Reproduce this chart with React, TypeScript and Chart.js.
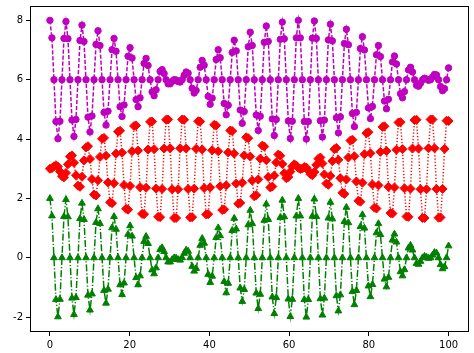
import React, { useEffect, useRef } from "react";
import { Chart, registerables } from "chart.js";

Chart.register(...registerables);

const xValues = [
  0, 0.5, 1.01, 1.51, 2.01, 2.51, 3.02, 3.52, 4.02, 4.52,
  5.03, 5.53, 6.03, 6.53, 7.04, 7.54, 8.04, 8.54, 9.05, 9.55,
  10.05, 10.55, 11.06, 11.56, 12.06, 12.56, 13.07, 13.57, 14.07, 14.57,
  15.08, 15.58, 16.08, 16.58, 17.09, 17.59, 18.09, 18.59, 19.1, 19.6,
  20.1, 20.6, 21.11, 21.61, 22.11, 22.61, 23.12, 23.62, 24.12, 24.62,
  25.13, 25.63, 26.13, 26.63, 27.14, 27.64, 28.14, 28.64, 29.15, 29.65,
  30.15, 30.65, 31.16, 31.66, 32.16, 32.66, 33.17, 33.67, 34.17, 34.67,
  35.18, 35.68, 36.18, 36.68, 37.19, 37.69, 38.19, 38.69, 39.2, 39.7,
  40.2, 40.7, 41.21, 41.71, 42.21, 42.71, 43.22, 43.72, 44.22, 44.72,
  45.23, 45.73, 46.23, 46.73, 47.24, 47.74, 48.24, 48.74, 49.25, 49.75,
  50.25, 50.75, 51.26, 51.76, 52.26, 52.76, 53.27, 53.77, 54.27, 54.77,
  55.28, 55.78, 56.28, 56.78, 57.29, 57.79, 58.29, 58.79, 59.3, 59.8,
  60.3, 60.8, 61.31, 61.81, 62.31, 62.81, 63.32, 63.82, 64.32, 64.82,
  65.33, 65.83, 66.33, 66.83, 67.34, 67.84, 68.34, 68.84, 69.35, 69.85,
  70.35, 70.85, 71.36, 71.86, 72.36, 72.86, 73.37, 73.87, 74.37, 74.87,
  75.38, 75.88, 76.38, 76.88, 77.39, 77.89, 78.39, 78.89, 79.4, 79.9,
  80.4, 80.9, 81.41, 81.91, 82.41, 82.91, 83.42, 83.92, 84.42, 84.92,
  85.43, 85.93, 86.43, 86.93, 87.44, 87.94, 88.44, 88.94, 89.45, 89.95,
  90.45, 90.95, 91.46, 91.96, 92.46, 92.96, 93.47, 93.97, 94.47, 94.97,
  95.48, 95.98, 96.48, 96.98, 97.49, 97.99, 98.49, 98.99, 99.5, 100,
];

const greenValues = [
  2.0, 1.41, 0, -1.41, -1.99, -1.4, 0, 1.39,
  1.96, 1.38, 0, -1.36, -1.91, -1.34, 0, 1.32,
  1.84, 1.29, 0, -1.26, -1.76, -1.22, 0, 1.19,
  1.65, 1.15, 0, -1.1, -1.53, -1.06, 0, 1.01,
  1.39, 0.96, 0, -0.91, -1.24, -0.85, 0, 0.79,
  1.08, 0.73, 0, -0.67, -0.91, -0.61, 0, 0.55,
  0.72, 0.48, 0, -0.41, -0.54, -0.34, 0, 0.28,
  0.34, 0.21, 0, -0.14, -0.14, -0.06, 0, -0.01,
  -0.06, -0.08, 0, 0.15, 0.26, 0.22, 0, -0.29,
  -0.45, -0.36, 0, 0.42, 0.65, 0.49, 0, -0.56,
  -0.83, -0.62, 0, 0.68, 1.01, 0.74, 0, -0.8,
  -1.18, -0.86, 0, 0.92, 1.33, 0.97, 0, -1.02,
  -1.47, -1.07, 0, 1.11, 1.6, 1.15, 0, -1.19,
  -1.71, -1.23, 0, 1.26, 1.81, 1.29, 0, -1.32,
  -1.88, -1.34, 0, 1.36, 1.94, 1.38, 0, -1.39,
  -1.98, -1.4, 0, 1.41, 2.0, 1.41, 0, -1.41,
  -2.0, -1.41, 0, 1.4, 1.98, 1.39, 0, -1.38,
  -1.93, -1.36, 0, 1.34, 1.87, 1.31, 0, -1.28,
  -1.79, -1.25, 0, 1.22, 1.7, 1.18, 0, -1.14,
  -1.58, -1.1, 0, 1.05, 1.45, 1.0, 0, -0.95,
  -1.31, -0.9, 0, 0.84, 1.15, 0.78, 0, -0.72,
  -0.98, -0.66, 0, 0.6, 0.8, 0.53, 0, -0.47,
  -0.61, -0.4, 0, 0.33, 0.42, 0.26, 0, -0.19,
  -0.22, -0.12, 0, 0.05, 0.02, -0.02, 0, 0.09,
  0.18, 0.16, 0, -0.23, -0.37, -0.3, 0, 0.4,
];

const redValues = [
  3.0, 3.02, 3.08, 3.12, 3.07, 2.91, 2.75, 2.71,
  2.86, 3.15, 3.41, 3.45, 3.2, 2.78, 2.43, 2.39,
  2.73, 3.28, 3.72, 3.76, 3.33, 2.65, 2.13, 2.1,
  2.61, 3.4, 4.01, 4.04, 3.44, 2.54, 1.87, 1.84,
  2.51, 3.51, 4.25, 4.28, 3.54, 2.45, 1.65, 1.62,
  2.42, 3.59, 4.44, 4.46, 3.61, 2.38, 1.48, 1.47,
  2.36, 3.65, 4.58, 4.59, 3.66, 2.33, 1.38, 1.37,
  2.32, 3.68, 4.65, 4.66, 3.69, 2.31, 1.34, 1.34,
  2.31, 3.69, 4.66, 4.65, 3.68, 2.32, 1.36, 1.37,
  2.33, 3.67, 4.6, 4.59, 3.65, 2.35, 1.46, 1.47,
  2.37, 3.62, 4.48, 4.46, 3.59, 2.41, 1.61, 1.63,
  2.44, 3.55, 4.29, 4.27, 3.51, 2.5, 1.82, 1.85,
  2.53, 3.45, 4.06, 4.03, 3.41, 2.6, 2.07, 2.11,
  2.64, 3.34, 3.78, 3.75, 3.29, 2.72, 2.37, 2.4,
  2.77, 3.21, 3.48, 3.44, 3.16, 2.85, 2.68, 2.72,
  2.9, 3.08, 3.15, 3.11, 3.03, 2.99, 3.01, 3.06,
  3.04, 2.94, 2.82, 2.78, 2.89, 3.13, 3.34, 3.38,
  3.18, 2.81, 2.5, 2.46, 2.76, 3.26, 3.66, 3.7,
  3.3, 2.68, 2.19, 2.15, 2.64, 3.38, 3.95, 3.98,
  3.42, 2.57, 1.92, 1.89, 2.53, 3.49, 4.2, 4.23,
  3.52, 2.47, 1.69, 1.66, 2.44, 3.57, 4.41, 4.43,
  3.6, 2.39, 1.51, 1.49, 2.37, 3.64, 4.56, 4.57,
  3.66, 2.34, 1.39, 1.38, 2.33, 3.68, 4.64, 4.65,
  3.68, 2.31, 1.34, 1.34, 2.31, 3.69, 4.66, 4.66,
  3.69, 2.32, 1.35, 1.36, 2.32, 3.67, 4.62, 4.61,
];

const magentaValues = [
  8.0, 7.41, 6, 4.59, 4.01, 4.6, 6, 7.39,
  7.96, 7.38, 6, 4.64, 4.09, 4.66, 6, 7.32,
  7.84, 7.29, 6, 4.74, 4.24, 4.78, 6, 7.19,
  7.65, 7.15, 6, 4.9, 4.47, 4.94, 6, 7.01,
  7.39, 6.96, 6, 5.09, 4.76, 5.15, 6, 6.79,
  7.08, 6.73, 6, 5.33, 5.09, 5.39, 6, 6.55,
  6.72, 6.48, 6, 5.59, 5.46, 5.66, 6, 6.28,
  6.34, 6.21, 6, 5.86, 5.86, 5.94, 6, 5.99,
  5.94, 5.92, 6, 6.15, 6.26, 6.22, 6, 5.71,
  5.55, 5.64, 6, 6.42, 6.65, 6.49, 6, 5.44,
  5.17, 5.38, 6, 6.68, 7.01, 6.74, 6, 5.2,
  4.82, 5.14, 6, 6.92, 7.33, 6.97, 6, 4.98,
  4.53, 4.93, 6, 7.11, 7.6, 7.15, 6, 4.81,
  4.29, 4.77, 6, 7.26, 7.81, 7.29, 6, 4.68,
  4.12, 4.66, 6, 7.36, 7.94, 7.38, 6, 4.61,
  4.02, 4.6, 6, 7.41, 8.0, 7.41, 6, 4.59,
  4.0, 4.59, 6, 7.4, 7.98, 7.39, 6, 4.62,
  4.07, 4.64, 6, 7.34, 7.87, 7.31, 6, 4.72,
  4.21, 4.75, 6, 7.22, 7.7, 7.18, 6, 4.86,
  4.42, 4.9, 6, 7.05, 7.45, 7.0, 6, 5.05,
  4.69, 5.1, 6, 6.84, 7.15, 6.78, 6, 5.28,
  5.02, 5.34, 6, 6.6, 6.8, 6.53, 6, 5.53,
  5.39, 5.6, 6, 6.33, 6.42, 6.26, 6, 5.81,
  5.78, 5.88, 6, 6.05, 6.02, 5.98, 6, 6.09,
  6.18, 6.16, 6, 5.77, 5.63, 5.7, 6, 6.4,
];

const xTicks = [0, 20, 40, 60, 80, 100];
const yTicks = [-2, 0, 2, 4, 6, 8];

const framePlugin = {
  id: "frame",
  afterDraw(chart: any) {
    const { ctx, chartArea: a } = chart;
    ctx.save();
    ctx.strokeStyle = "#000";
    ctx.lineWidth = 1;
    const l = Math.round(a.left) + 0.5;
    const t = Math.round(a.top) + 0.5;
    const r = Math.round(a.right) - 0.5;
    const b = Math.round(a.bottom) - 0.5;
    ctx.strokeRect(l, t, r - l, b - t);
    ctx.restore();
  },
};

function pts(ys: number[]) {
  return ys.map((y, i) => ({ x: xValues[i], y }));
}

export default function App() {
  const ref = useRef<HTMLCanvasElement | null>(null);

  useEffect(() => {
    if (!ref.current) return;
    const font = { family: "'DejaVu Sans', sans-serif", size: 10 };
    const chart = new Chart(ref.current, {
      type: "line",
      data: {
        datasets: [
          {
            data: pts(greenValues),
            borderColor: "#008000",
            backgroundColor: "#008000",
            borderWidth: 1.5,
            borderDash: [7, 2, 1.2, 2],
            pointStyle: "triangle",
            pointRadius: 3.9,
            pointBorderWidth: 1,
            pointBorderColor: "#008000",
            pointBackgroundColor: "#008000",
            tension: 0,
            order: 3,
          },
          {
            data: pts(redValues),
            borderColor: "#ff0000",
            backgroundColor: "#ff0000",
            borderWidth: 1.5,
            borderDash: [1.2, 2],
            pointStyle: "rectRot",
            pointRadius: 4.5,
            pointBorderWidth: 1,
            pointBorderColor: "#ff0000",
            pointBackgroundColor: "#ff0000",
            tension: 0,
            order: 2,
          },
          {
            data: pts(magentaValues),
            borderColor: "#bf00bf",
            backgroundColor: "#bf00bf",
            borderWidth: 1.5,
            borderDash: [4.2, 1.8],
            pointStyle: "circle",
            pointRadius: 3.2,
            pointBorderWidth: 1,
            pointBorderColor: "#bf00bf",
            pointBackgroundColor: "#bf00bf",
            tension: 0,
            order: 1,
          },
        ],
      },
      options: {
        animation: false,
        responsive: false,
        devicePixelRatio: 1,
        events: [],
        layout: { padding: { top: 4, right: 4, left: 0, bottom: 0 } },
        plugins: {
          legend: { display: false },
          tooltip: { enabled: false },
        },
        scales: {
          x: {
            type: "linear",
            min: -5,
            max: 105,
            afterBuildTicks: (s: any) => {
              s.ticks = xTicks.map((v) => ({ value: v }));
            },
            afterFit: (s: any) => {
              s.height = 21;
              s.paddingLeft = 0;
              s.paddingRight = 0;
            },
            grid: {
              display: true,
              drawOnChartArea: false,
              drawTicks: true,
              tickLength: 4,
              color: "#000",
            },
            border: { display: false },
            ticks: {
              color: "#000",
              font,
              padding: 3,
              maxRotation: 0,
              autoSkip: false,
              callback: (v: any) => String(v),
            },
          },
          y: {
            type: "linear",
            min: -2.5,
            max: 8.5,
            afterBuildTicks: (s: any) => {
              s.ticks = yTicks.map((v) => ({ value: v }));
            },
            afterFit: (s: any) => {
              s.width = 30;
              s.paddingTop = 0;
              s.paddingBottom = 0;
            },
            grid: {
              display: true,
              drawOnChartArea: false,
              drawTicks: true,
              tickLength: 4,
              color: "#000",
            },
            border: { display: false },
            ticks: {
              color: "#000",
              font,
              padding: 3,
              autoSkip: false,
              callback: (v: any) => String(v),
            },
          },
        },
      },
      plugins: [framePlugin],
    });
    return () => chart.destroy();
  }, []);

  return (
    <div style={{ position: "absolute", left: 0, top: 0, width: 474, height: 353, background: "#fff" }}>
      <canvas ref={ref} width={474} height={353} style={{ display: "block", width: 474, height: 353 }} />
    </div>
  );
}
